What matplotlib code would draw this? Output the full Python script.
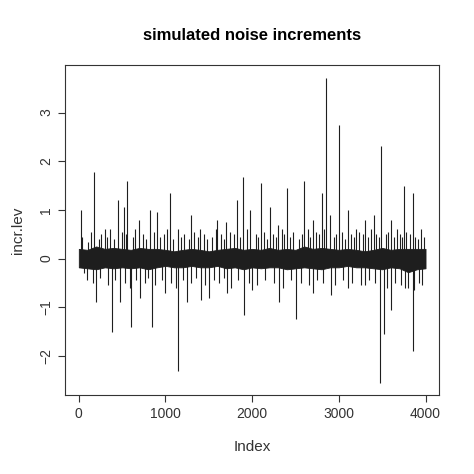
import numpy as np
import matplotlib
matplotlib.use('Agg')
import matplotlib.pyplot as plt

plt.rcParams['font.family'] = ['Liberation Sans', 'DejaVu Sans']

# envelope of the dense noise core, at 0, 100, ..., 4000
band_x = np.arange(0, 4001, 100)
band_hi = [0.2, 0.18, 0.25, 0.2, 0.22, 0.2, 0.18, 0.22, 0.2, 0.2,
           0.18, 0.15, 0.18, 0.2, 0.18, 0.15, 0.18, 0.2, 0.22, 0.18,
           0.2, 0.18, 0.22, 0.18, 0.2, 0.18, 0.25, 0.2, 0.22, 0.2,
           0.18, 0.2, 0.18, 0.15, 0.18, 0.22, 0.18, 0.2, 0.2, 0.2, 0.2]
band_lo = [-0.18, -0.2, -0.22, -0.18, -0.2, -0.18, -0.2, -0.18, -0.22, -0.18,
           -0.15, -0.18, -0.18, -0.15, -0.18, -0.18, -0.15, -0.2, -0.18, -0.22,
           -0.18, -0.2, -0.18, -0.18, -0.22, -0.2, -0.18, -0.2, -0.22, -0.18,
           -0.18, -0.15, -0.18, -0.18, -0.2, -0.22, -0.18, -0.2, -0.28, -0.22, -0.2]

# medium increments that give the band its ragged edge
mid_idx = [40, 110, 140, 230, 260, 330, 360, 410, 500, 540, 620, 650, 740, 780,
           870, 940, 980, 1020, 1090, 1180, 1210, 1270, 1330, 1370, 1440, 1480,
           1540, 1580, 1640, 1670, 1750, 1790, 1860, 1940, 2040, 2070, 2140,
           2170, 2240, 2270, 2340, 2370, 2440, 2470, 2540, 2570, 2640, 2670,
           2740, 2770, 2830, 2940, 2970, 3040, 3070, 3140, 3170, 3230, 3280,
           3340, 3370, 3430, 3460, 3540, 3570, 3640, 3670, 3700, 3730, 3780,
           3820, 3880, 3910, 3980,
           90, 160, 250, 340, 420, 530, 590, 660, 760, 800, 880, 960, 1060,
           1120, 1200, 1290, 1350, 1460, 1560, 1620, 1680, 1760, 1840, 1960,
           2060, 2150, 2250, 2350, 2450, 2560, 2650, 2750, 2820, 2950, 3050,
           3150, 3300, 3350, 3420, 3560, 3650, 3720, 3760, 3870, 3930]
mid_val = [0.45, 0.35, 0.55, 0.4, 0.5, 0.45, 0.6, 0.4, 0.55, 0.5, 0.45, 0.6, 0.5,
           0.4, 0.55, 0.45, 0.5, 0.6, 0.4, 0.45, 0.5, 0.4, 0.55, 0.45, 0.5, 0.4,
           0.45, 0.6, 0.5, 0.4, 0.55, 0.5, 0.45, 0.6, 0.5, 0.45, 0.55, 0.4, 0.5,
           0.45, 0.6, 0.5, 0.45, 0.55, 0.4, 0.5, 0.6, 0.45, 0.55, 0.5, 0.6, 0.45,
           0.5, 0.55, 0.4, 0.5, 0.45, 0.55, 0.5, 0.45, 0.6, 0.5, 0.45, 0.5, 0.55,
           0.45, 0.6, 0.5, 0.45, 0.55, 0.5, 0.45, 0.4, 0.45,
           -0.45, -0.5, -0.4, -0.55, -0.45, -0.5, -0.6, -0.45, -0.5, -0.4, -0.55,
           -0.45, -0.5, -0.6, -0.45, -0.5, -0.4, -0.55, -0.45, -0.5, -0.4, -0.6,
           -0.45, -0.5, -0.55, -0.45, -0.5, -0.6, -0.45, -0.5, -0.55, -0.45,
           -0.5, -0.55, -0.45, -0.5, -0.55, -0.45, -0.5, -0.6, -0.5, -0.55,
           -0.6, -0.65, -0.5]

# larger increments
spike_idx = [20, 180, 300, 450, 520, 560, 700, 820, 900, 1050, 1150, 1300, 1400,
             1600, 1700, 1820, 1900, 1980, 2100, 2200, 2300, 2400, 2600, 2700,
             2800, 2850, 2900, 3000, 3100, 3200, 3300, 3400, 3490, 3600, 3750,
             3850, 3950,
             60, 200, 380, 480, 600, 705, 850, 1000, 1140, 1250, 1405, 1500,
             1705, 1905, 2000, 2305, 2500, 2705, 2905, 3105, 3250, 3480, 3520,
             3605, 3800, 3855, 3955]
spike_val = [1.0, 1.78, 0.6, 1.2, 1.05, 1.6, 0.8, 1.0, 0.95, 1.35, 0.6, 0.9, 0.6,
             0.8, 0.75, 1.2, 1.68, 1.0, 1.55, 1.05, 0.7, 1.45, 1.6, 0.8,
             1.35, 3.72, 0.9, 2.75, 1.0, 0.6, 0.8, 0.9, 2.32, 0.8, 1.5,
             1.35, 0.6,
             -0.3, -0.9, -1.5, -0.9, -1.4, -0.8, -1.4, -0.7, -2.3, -0.9, -0.85, -0.8,
             -0.7, -1.15, -0.65, -0.9, -1.25, -0.7, -0.75, -0.6, -0.55, -2.55, -1.55,
             -1.05, -0.6, -1.9, -0.55]

fig = plt.figure(figsize=(4.74, 4.74), dpi=100)
ax = fig.add_axes([0.137, 0.167, 0.79, 0.695])

ax.fill_between(band_x, band_lo, band_hi, color='#1e1e1e', lw=0.6, edgecolor='#1e1e1e')
ax.vlines(mid_idx, 0, mid_val, color='#1e1e1e', lw=0.8)
ax.vlines(spike_idx, 0, spike_val, color='#1e1e1e', lw=0.8)

ax.set_xlim(-160, 4160)
ax.set_ylim(-2.80, 3.97)
ax.set_xticks([0, 1000, 2000, 3000, 4000])
ax.set_yticks([-2, -1, 0, 1, 2, 3])
ax.set_yticklabels(['\u22122', '\u22121', '0', '1', '2', '3'], rotation=90, va='center')
ax.tick_params(labelsize=10, length=5, color='#333333', labelcolor='#333333')
for s in ax.spines.values():
    s.set_color('#333333')
ax.set_xlabel('Index', fontsize=11, color='#333333', labelpad=14)
ax.set_ylabel('incr.lev', fontsize=11, color='#333333', labelpad=10)
ax.set_title('simulated noise increments', fontsize=12, fontweight='bold', pad=18)

fig.savefig('out.png', dpi=100)
